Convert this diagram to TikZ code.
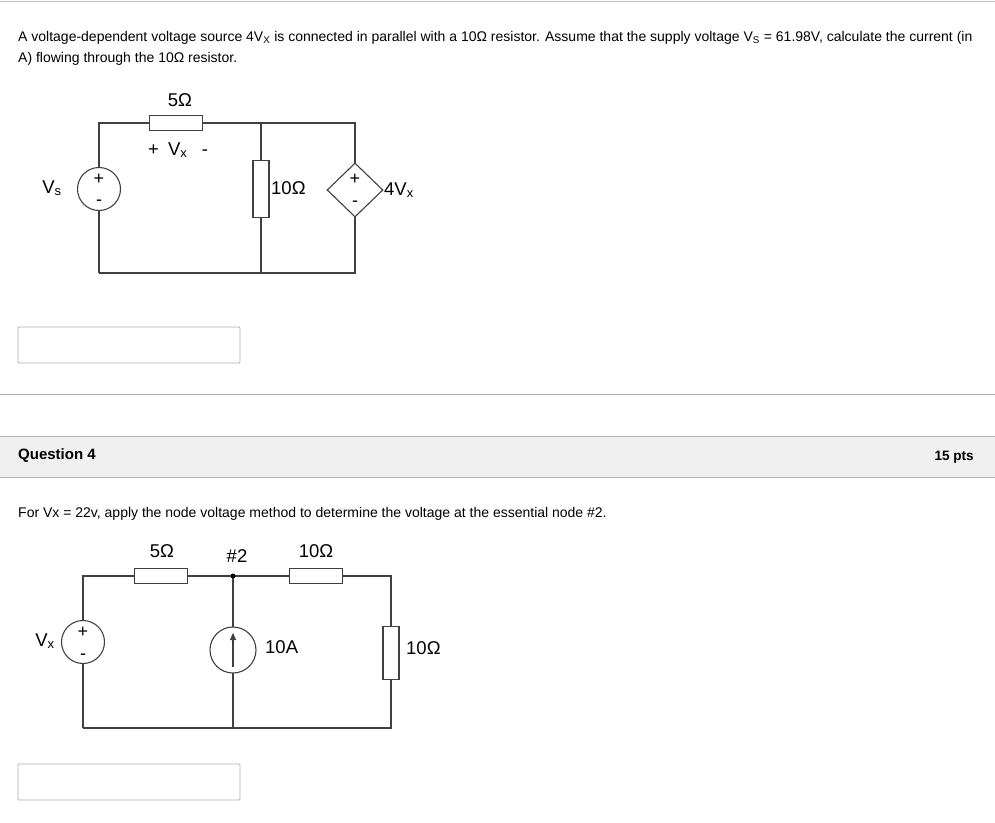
\documentclass[tikz,border=0pt]{standalone}
\usepackage{fontspec}
\setmainfont{Liberation Sans}
\usetikzlibrary{shapes.geometric,arrows.meta}
\newcommand{\ohm}{Ω}
\begin{document}
\begin{tikzpicture}[x=1pt,y=-1pt,
  w/.style={draw=black!75,line width=1.1pt},
  res/.style={draw=black!75,fill=white,line width=1.1pt,inner sep=0,minimum width=53pt,minimum height=15pt},
  vres/.style={res,minimum width=16pt,minimum height=57pt},
  src/.style={circle,draw=black!75,fill=white,line width=1.1pt,minimum size=43pt,inner sep=0},
  dia/.style={diamond,draw=black!75,fill=white,line width=1.1pt,minimum width=56pt,minimum height=54pt,inner sep=0},
  lbl/.style={font=\fontsize{18.5}{20}\selectfont,inner sep=0},
  sg/.style={font=\fontsize{18}{18}\selectfont,inner sep=0},
  txt/.style={font=\fontsize{14}{16}\selectfont,inner sep=0,anchor=west},
  box/.style={draw=black!30,line width=0.8pt,rounded corners=1pt}]
\useasboundingbox (0,0) rectangle (995,822);
\fill[white] (0,0) rectangle (995,822);
\draw[black!25] (0,1) -- (995,1);
\node[txt] (t1) at (18,38) {A voltage-dependent voltage source 4V\textsubscript{X} is connected in parallel with a 10\ohm{} resistor. Assume that the supply voltage V\textsubscript{S} = 61.98V, calculate the current (in};
\node[txt] (t2) at (18,59) {A) flowing through the 10\ohm{} resistor.};
% circuit 1
\coordinate (a1) at (99,123); \coordinate (a2) at (261,123); \coordinate (a3) at (355,123);
\coordinate (b1) at (99,273); \coordinate (b2) at (261,273); \coordinate (b3) at (355,273);
\draw[w] (b1) -- (a1) -- (a3) -- (b3) -- (b1);
\draw[w] (a2) -- (b2);
\node[res] (r1) at (176,123) {};
\node[vres] (r2) at (261,189) {};
\node[src] (s1) at (99,189) {};
\node[dia] (d1) at (355,190) {};
\node[sg] at (99,179) {+}; \node[sg] at (99,203) {-};
\node[sg] at (355,179) {+}; \node[sg] at (355,204) {-};
\node[lbl] (l1) at (180,100) {5\ohm};
\node[lbl] (l2) at (178,150) {+\enspace V\textsubscript{x}\enspace\;-};
\node[lbl] (l3) at (52,188) {V\textsubscript{s}};
\node[lbl,anchor=west] (l4) at (271,188) {10\ohm};
\node[lbl,anchor=west] (l5) at (384,190) {4V\textsubscript{x}};
\draw[box] (18,327) rectangle (240,363);
\draw[black!30] (0,394) -- (995,394);
\fill[black!6] (0,436) rectangle (995,477);
\draw[black!30] (0,436) -- (995,436) (0,477) -- (995,477);
\node[txt,font=\fontsize{15}{16}\selectfont\bfseries] (q4) at (18,456) {Question 4};
\node[txt,anchor=east,font=\fontsize{13.6}{16}\selectfont\bfseries] (pts) at (974,457) {15 pts};
\node[txt] (t3) at (18,514) {For Vx = 22v, apply the node voltage method to determine the voltage at the essential node \#2.};
% circuit 2
\coordinate (c1) at (83,576); \coordinate (c2) at (233,576); \coordinate (c3) at (391,576);
\coordinate (e1) at (83,728); \coordinate (e2) at (233,728); \coordinate (e3) at (391,728);
\draw[w] (e1) -- (c1) -- (c3) -- (e3) -- (e1);
\draw[w] (c2) -- (e2);
\fill (c2) circle (2.5pt);
\node[res] (r3) at (161,576) {};
\node[res] (r4) at (316,576) {};
\node[vres,minimum height=53pt] (r5) at (391,653) {};
\node[src] (s2) at (83,642) {};
\node[sg] at (83,632) {+}; \node[sg] at (83,657) {-};
\node[src,minimum size=46pt] (s3) at (233,650) {};
\draw[w,-{Triangle[length=7pt,width=6pt]}] (233,667) -- (233,633);
\node[lbl] (l6) at (162,551) {5\ohm};
\node[lbl] (l7) at (237,556) {\#2};
\node[lbl] (l8) at (316,551) {10\ohm};
\node[lbl] (l9) at (45,641) {V\textsubscript{x}};
\node[lbl,anchor=west] (l10) at (265,647) {10A};
\node[lbl,anchor=west] (l11) at (406,648) {10\ohm};
\draw[box] (18,764) rectangle (240,800);
\end{tikzpicture}
\end{document}
